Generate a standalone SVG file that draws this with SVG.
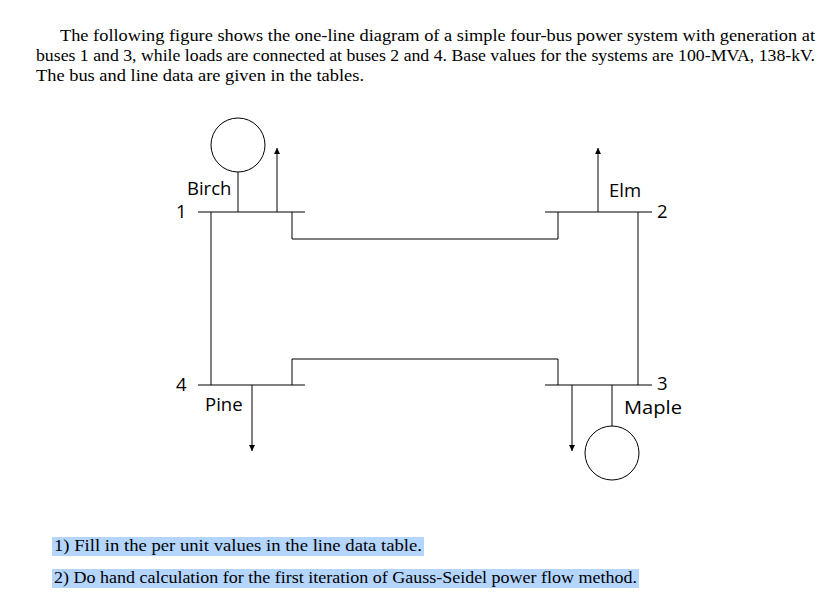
<svg xmlns="http://www.w3.org/2000/svg" width="834" height="597" viewBox="0 0 834 597">
<style>
.t{font-family:"Liberation Serif",serif;font-size:17px;fill:#000}
.l{font-family:"Open Sans","Liberation Sans",sans-serif;font-size:18.5px;fill:#000}
.w{stroke:#000;stroke-width:1;fill:none}
.g{stroke:#000;stroke-width:1;fill:#fff}
</style>
<defs><marker id="a" viewBox="0 0 10 10" refX="10" refY="5" markerWidth="6" markerHeight="8" orient="auto" markerUnits="userSpaceOnUse"><path d="M0,0L10,5L0,10z" fill="#000"/></marker></defs>
<rect width="834" height="597" fill="#fff"/>
<text class="t" x="60" y="41" textLength="755" lengthAdjust="spacingAndGlyphs">The following figure shows the one-line diagram of a simple four-bus power system with generation at</text>
<text class="t" x="36" y="61" textLength="779" lengthAdjust="spacingAndGlyphs">buses 1 and 3, while loads are connected at buses 2 and 4. Base values for the systems are 100-MVA, 138-kV.</text>
<text class="t" x="36" y="81" textLength="328" lengthAdjust="spacingAndGlyphs">The bus and line data are given in the tables.</text>
<g id="bus1"><line class="w" x1="198" y1="212" x2="305" y2="212"/><text class="l" x="187" y="195">Birch</text><text class="l" x="176" y="218">1</text></g>
<g id="gen1"><circle class="g" cx="238" cy="145" r="27"/><line class="w" x1="238" y1="172" x2="238" y2="212"/></g>
<g id="load1"><line class="w" x1="277" y1="212" x2="277" y2="148" marker-end="url(#a)"/></g>
<g id="bus2"><line class="w" x1="545" y1="212" x2="652" y2="212"/><text class="l" x="609" y="197">Elm</text><text class="l" x="657" y="218">2</text></g>
<g id="load2"><line class="w" x1="598" y1="212" x2="598" y2="148" marker-end="url(#a)"/></g>
<g id="bus4"><line class="w" x1="198" y1="385" x2="305" y2="385"/><text class="l" x="176" y="391">4</text><text class="l" x="205" y="411">Pine</text></g>
<g id="load4"><line class="w" x1="252" y1="385" x2="252" y2="451" marker-end="url(#a)"/></g>
<g id="bus3"><line class="w" x1="545" y1="385" x2="652" y2="385"/><text class="l" x="657" y="390" font-size="17">3</text><text class="l" x="624" y="414" textLength="58" lengthAdjust="spacingAndGlyphs">Maple</text></g>
<g id="load3"><line class="w" x1="572" y1="385" x2="572" y2="451" marker-end="url(#a)"/></g>
<g id="gen3"><line class="w" x1="612" y1="385" x2="612" y2="426"/><circle class="g" cx="612" cy="453" r="27"/></g>
<g id="lines">
<line class="w" x1="211" y1="212" x2="211" y2="385"/>
<line class="w" x1="638" y1="212" x2="638" y2="385"/>
<polyline class="w" points="292,212 292,239 558,239 558,212"/>
<polyline class="w" points="292,385 292,359 558,359 558,385"/>
</g>
<rect x="52" y="537" width="372" height="19" fill="#b4d5fe"/>
<rect x="52" y="569" width="587" height="19" fill="#b4d5fe"/>
<text class="t" x="54" y="551" textLength="368" lengthAdjust="spacingAndGlyphs">1) Fill in the per unit values in the line data table.</text>
<text class="t" x="54" y="583" textLength="583" lengthAdjust="spacingAndGlyphs">2) Do hand calculation for the first iteration of Gauss-Seidel power flow method.</text>
</svg>
